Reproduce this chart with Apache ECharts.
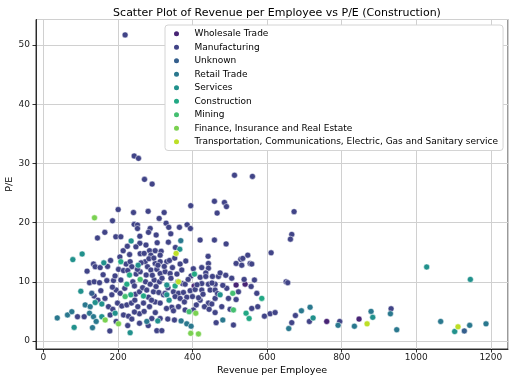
<!DOCTYPE html>
<html><head><meta charset="utf-8">
<script src="https://cdn.jsdelivr.net/npm/echarts@6/dist/echarts.min.js"></script>
<style>html,body{margin:0;padding:0;background:#fff}#c{width:512px;height:376px}</style>
</head><body><div id="c"></div>
<script>
var titleText = 'Scatter Plot of Revenue per Employee vs P/E (Construction)';
var xAxisName = 'Revenue per Employee';
var yAxisName = 'P/E';
var categories = ['Wholesale Trade','Manufacturing','Unknown','Retail Trade','Services','Construction','Mining','Finance, Insurance and Real Estate','Transportation, Communications, Electric, Gas and Sanitary service'];
var colors = ['#482475','#414487','#355f8d','#2a788e','#21918c','#22a884','#44bf70','#7ad151','#bddf26'];

var wholesaleTrade = [[404.1,9.3],[516.7,9.45],[540.9,9.6],[759.8,3.3],[846.5,3.7]];
var manufacturing = [
[219,51.7],[243.3,31.25],[254.9,30.85],[271.0,27.3],[512.4,28.0],[560.5,27.8],
[291.5,26.5],[200.4,22.2],[241.5,21.7],[280.8,21.9],[323.7,21.7],[185.2,20.3],[310.3,20.7],[243.3,19.7],[252.2,19.6],[252.2,19.0],[286.2,19.0],[164.6,18.35],[281.7,18.35],[302.3,17.9],[144.9,17.4],[194.1,17.6],[207.5,17.6],[258.5,17.7],[258.5,16.5],[213.8,15.25],[259.4,14.75],[284.4,15.25],[299.6,15.25],[315.7,15.15],[288.0,14.5],[313.0,14.5],
[458.6,23.6],[485.4,23.4],[490.8,22.7],[465.8,21.6],[395.1,22.85],[329.0,19.9],[336.1,19.2],[364.7,19.2],[385.3,19.65],[394.2,19.0],[341.5,18.1],[420.2,17.05],[458.6,17.05],[489.9,16.4],[354.0,15.8],[441.6,14.3],[529.2,13.8],[534.6,13.95],[548.0,14.5],[610.6,14.9],
[134.2,13.0],[138.7,12.55],[221.8,13.0],[232.5,13.4],[237.0,12.55],[272.8,13.4],[279.0,12.55],[299.6,13.1],[313.0,13.4],[201.3,12.1],[214.7,11.9],[248.6,11.3],[259.4,11.7],[275.5,11.15],[288.0,12.0],[304.1,12.1],[313.0,11.4],[123.5,9.85],[136.0,10.0],[150.3,9.85],[170.0,10.2],[187.8,10.2],[207.5,10.3],[239.7,10.0],[273.7,10.0],[286.2,9.6],[296.9,10.3],[311.2,10.0],[136.0,7.6],[153.9,8.5],[183.4,7.8],[195.0,8.6],[205.7,8.05],[246.8,7.9],[257.6,8.3],[281.7,7.4],[295.1,8.3],[309.4,8.2],[321.9,7.8],[174.4,5.8],[186.1,5.35],[198.6,6.4],[210.2,5.9],[223.6,6.1],[236.1,6.4],[253.1,5.8],[268.3,6.4],[284.4,5.8],[299.6,6.6],[313.0,6.4],[91.3,4.1],[109.2,4.1],[178.9,4.4],[214.7,4.4],[228.1,4.2],[237.0,3.7],[257.6,4.6],[257.6,3.0],[290.7,3.8],[313.0,3.8],[178.0,1.7],[304.1,1.75],[317.5,1.75],
[330.8,13.4],[338.0,13.6],[366.5,13.0],[381.7,13.5],[424.6,12.4],[442.5,13.1],[442.5,12.3],[516.7,13.1],[531.9,12.8],[554.3,13.1],[558.7,13.0],[326.3,11.7],[339.7,11.4],[396.0,11.0],[420.2,10.75],[435.4,11.5],[435.4,10.9],[453.3,10.9],[469.3,10.9],[473.8,11.5],[489.0,11.1],[538.2,10.4],[565.9,10.3],[360.3,10.0],[372.8,9.7],[380.0,9.6],[424.6,9.7],[442.5,9.6],[460.4,9.6],[491.7,8.9],[557.0,9.2],[326.3,8.05],[348.7,8.3],[362.1,8.05],[375.5,8.2],[393.4,8.5],[406.8,8.7],[424.6,8.6],[447.0,8.6],[460.4,8.6],[572.2,8.05],[353.1,7.5],[366.5,7.2],[384.4,7.4],[399.6,7.5],[420.2,6.9],[442.5,6.4],[451.5,6.25],[460.4,7.2],[496.2,7.2],[516.7,7.0],[344.2,5.7],[348.7,5.1],[362.1,5.8],[380.0,5.25],[402.3,5.25],[431.8,5.8],[444.3,5.35],[460.4,4.8],[478.3,5.8],[500.6,5.35],[558.7,5.5],[574.8,5.8],[592.7,4.2],[607.9,4.6],[621.3,4.8],[333.5,3.7],[351.3,3.55],[463.1,3.1],[509.6,2.7],
[672.2,21.85],[666.0,18.0],[662.4,17.2],[650.8,10.0],[655.2,9.85],[675.8,4.3],[713.3,3.3],[666.0,3.1],[794.7,3.3],[932.4,5.45],
[160,11.2],[172,12.6],[185,9.1],[192,11.0],[205,14.2],[218,8.9],[226,11.9],[231,14.6],[244,9.3],[252,12.1],[262,13.2],[266,9.0],[270,14.8],[277,8.6],[283,13.9],[292,11.1],[296,14.0],[302,9.2],[307,12.8],[318,10.6],[324,12.6],[334,9.0],[342,10.6],[346,12.4],[352,14.0],[358,11.3],[371,12.0],[388,10.4],[402,12.2],[412,9.5],[416,7.3],[428,7.9],[452,9.8],[467,8.0],[481,9.4],[505,10.6],[523,8.3],[300,4.8],[270,5.0],[244,4.9],[226,2.6],[281,2.6],[195,3.3],[165,7.2],[146,6.9],[117,11.8],[152,12.4],[180,13.6],[248,15.9],[275,16.2],[305,16.6],[225,16.0],[335,16.7],[245,6.9],[290,6.9],[330,5.5],[378,6.6],[410,6.1]
];
var unknown = [[1128.9,1.7],[129.7,8.05]];
var retailTrade = [[37,3.9],[368.3,16.95],[111.9,6.1],[125.3,5.8],[64.5,4.4],[76.1,4.95],[123.5,4.7],[134.2,4.1],[141.4,3.3],[277.2,3.3],[131.5,2.25],[369.2,3.4],[384.4,2.9],[396.0,2.5],[481.0,3.55],[691.9,5.1],[715.1,5.7],[657.9,2.1],[790.2,2.65],[834.0,2.5],[878.7,5.0],[930.6,4.6],[947.6,1.9],[1065.4,3.3],[1143.2,2.65],[1187,2.9]];
var services = [[235.2,16.9],[365.6,15.5],[78.8,13.75],[103.8,14.7],[161.9,13.2],[254.0,12.8],[100.2,8.4],[138.7,6.5],[156.6,6.25],[156.6,4.1],[192.3,4.7],[306.7,3.4],[82.3,2.3],[232.5,1.4],[330.8,9.45],[330.8,7.8],[337.0,6.9],[473.8,7.8],[723.2,3.9],[883.2,4.0],[1027.9,12.5],[1145,10.4],[1103,1.6]];
var construction = [[207.5,13.4],[230.8,11.15],[223.6,9.6],[234.3,7.8],[268.3,7.6],[405.0,11.3],[353.1,9.3],[585.6,7.2],[543.5,4.7],[551.6,3.8]];
var mining = [[259.4,10.4],[219.1,7.5],[390.7,4.95],[509.6,5.25],[507.8,8.05]];
var finance = [[136.9,20.8],[165.5,3.55],[201.3,2.9],[408.6,4.7],[395.1,1.3],[415.7,1.2]];
var transportation = [[355.8,14.8],[362.1,10.0],[868.0,2.9],[1111.9,2.4]];

var seriesData = [wholesaleTrade, manufacturing, unknown, retailTrade, services, construction, mining, finance, transportation];

var FONT = 'DejaVu Sans';
var chart = echarts.init(document.getElementById('c'), null, {renderer: 'canvas'});
var series = categories.map(function (name, i) {
  return {
    name: name, type: 'scatter', data: seriesData[i], symbol: 'circle', symbolSize: 6,
    itemStyle: {color: colors[i], borderColor: '#ffffff', borderWidth: 0.5, opacity: 1},
    emphasis: {disabled: true}
  };
});
function plain(v) { return String(v); }
chart.setOption({
  animation: false,
  backgroundColor: '#ffffff',
  title: {text: titleText, left: 272, top: 3, textAlign: 'center',
    textStyle: {fontFamily: FONT, fontSize: 11, fontWeight: 'normal', color: '#000'}},
  grid: {left: 36, right: 4, top: 19.5, bottom: 27, containLabel: false, outerBoundsMode: 'none',
    show: true, borderColor: '#000', borderWidth: 0.8, backgroundColor: 'transparent'},
  legend: {
    orient: 'vertical', left: 165, top: 25, padding: [2, 5, 2, 7],
    itemWidth: 26, itemHeight: 7, itemGap: 0, icon: 'circle',
    backgroundColor: '#fff', borderColor: '#d4d4d4', borderWidth: 1, borderRadius: 3,
    textStyle: {fontFamily: FONT, fontSize: 9, lineHeight: 13.5, color: '#000'},
    data: categories
  },
  xAxis: {
    type: 'value', min: -20, max: 1246, splitNumber: 6,
    name: xAxisName, nameLocation: 'middle', nameGap: 17, nameMoveOverlap: false,
    nameTextStyle: {fontFamily: FONT, fontSize: 9.5, color: '#000'},
    axisLine: {show: true, onZero: false, lineStyle: {color: '#000', width: 0.8}},
    axisTick: {show: true, length: 3.5, lineStyle: {color: '#000', width: 0.8}},
    axisLabel: {showMinLabel: false, showMaxLabel: false, margin: 4, fontFamily: FONT, fontSize: 9, color: '#222', formatter: plain},
    splitLine: {show: true, lineStyle: {color: '#d0d0d0', width: 1}}
  },
  yAxis: {
    type: 'value', min: -1.35, max: 54.3, splitNumber: 5,
    name: yAxisName, nameLocation: 'middle', nameGap: 21, nameMoveOverlap: false,
    nameTextStyle: {fontFamily: FONT, fontSize: 9.5, color: '#000'},
    axisLine: {show: true, onZero: false, lineStyle: {color: '#000', width: 0.8}},
    axisTick: {show: true, length: 3.5, lineStyle: {color: '#000', width: 0.8}},
    axisLabel: {showMinLabel: false, showMaxLabel: false, margin: 6, fontFamily: FONT, fontSize: 9, color: '#222', formatter: plain},
    splitLine: {show: true, lineStyle: {color: '#d0d0d0', width: 1}}
  },
  series: series
});
</script></body></html>
